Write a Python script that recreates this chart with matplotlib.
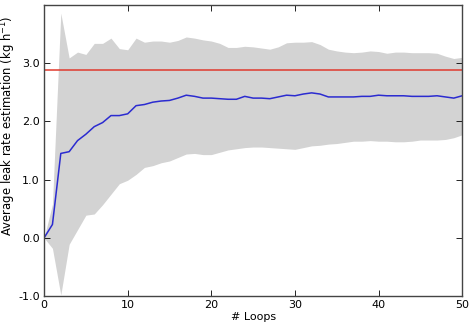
import numpy as np
import matplotlib
matplotlib.use("Agg")
import matplotlib.pyplot as plt

loops = np.arange(0, 51)

mean_rate = [0.00, 0.23, 1.45, 1.48, 1.67, 1.78, 1.91, 1.98, 2.10, 2.10,
             2.13, 2.27, 2.29, 2.33, 2.35, 2.36, 2.40, 2.45, 2.43, 2.40,
             2.40, 2.39, 2.38, 2.38, 2.43, 2.40, 2.40, 2.39, 2.42, 2.45,
             2.44, 2.47, 2.49, 2.47, 2.42, 2.42, 2.42, 2.42, 2.43, 2.43,
             2.45, 2.44, 2.44, 2.44, 2.43, 2.43, 2.43, 2.44, 2.42, 2.40,
             2.44]

upper = [0.00, 0.58, 3.86, 3.09, 3.19, 3.15, 3.34, 3.34, 3.43, 3.25,
         3.23, 3.43, 3.36, 3.38, 3.38, 3.36, 3.39, 3.45, 3.43, 3.40,
         3.38, 3.34, 3.27, 3.27, 3.29, 3.28, 3.26, 3.24, 3.28, 3.35,
         3.36, 3.36, 3.37, 3.32, 3.24, 3.21, 3.19, 3.18, 3.19, 3.21,
         3.20, 3.17, 3.19, 3.19, 3.18, 3.18, 3.18, 3.17, 3.12, 3.08,
         3.10]

lower = [0.00, -0.18, -0.98, -0.11, 0.14, 0.39, 0.41, 0.57, 0.75, 0.93,
         0.99, 1.09, 1.21, 1.24, 1.29, 1.32, 1.38, 1.44, 1.45, 1.43,
         1.43, 1.47, 1.51, 1.53, 1.55, 1.56, 1.56, 1.55, 1.54, 1.53,
         1.52, 1.55, 1.58, 1.59, 1.61, 1.62, 1.64, 1.66, 1.66, 1.67,
         1.66, 1.66, 1.65, 1.65, 1.66, 1.68, 1.68, 1.68, 1.69, 1.72,
         1.77]

true_rate = 2.89

plt.rcParams['font.size'] = 8
plt.rcParams['xtick.direction'] = 'in'
plt.rcParams['ytick.direction'] = 'in'

fig = plt.figure(figsize=(4.74, 3.29), dpi=100)
ax = fig.add_axes([0.093, 0.100, 0.882, 0.885])

ax.fill_between(loops, lower, upper, color='#d3d3d3', lw=0)
ax.plot(loops, mean_rate, color='#2b2bd0', lw=1.1)
ax.axhline(true_rate, color='#e03a2e', lw=1.1)

ax.set_xlim(0, 50)
ax.set_ylim(-1, 4)
ax.set_yticks([-1, 0, 1, 2, 3])
ax.set_yticklabels(['-1.0', '0.0', '1.0', '2.0', '3.0'])
ax.set_xticks([0, 10, 20, 30, 40, 50])
ax.tick_params(top=True, right=True, length=4, width=0.6, pad=3)
for s in ax.spines.values():
    s.set_color('#444444')
    s.set_linewidth(1.0)

ax.set_xlabel('# Loops', labelpad=1)
ax.set_ylabel('Average leak rate estimation (kg h$^{\\mathregular{-1}}$)',
              fontsize=8.4)
ax.yaxis.set_label_coords(-0.062, 0.585)

fig.savefig('out.png', dpi=100)
